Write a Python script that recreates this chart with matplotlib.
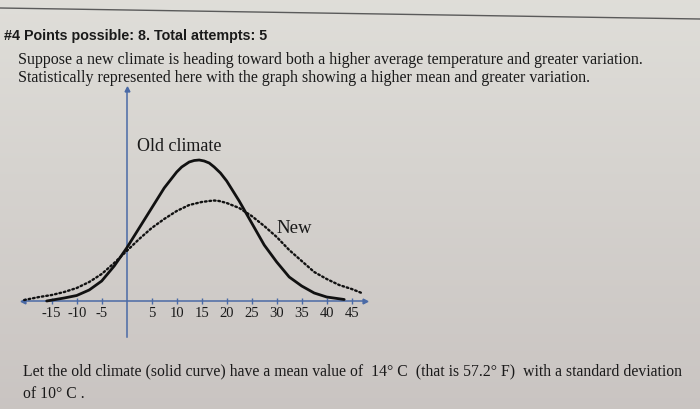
import numpy as np
import matplotlib
matplotlib.use("Agg")
import matplotlib.pyplot as plt
from matplotlib.lines import Line2D

# values (x in degrees C, height in arbitrary units)
old_x = [-16, -12.5, -10, -7.5, -5, -2.5, 0, 2.5, 5, 7.5, 10, 11, 12.5, 13.5, 14.5,
         15.5, 16.5, 17.5, 18.75, 20, 22.5, 25, 27.5, 30, 32.5, 35, 37.5, 40, 43.5]
old_h = [0, 3, 5.5, 11, 20, 35, 53, 73, 93, 113, 129, 134, 139, 140.5, 141,
         140, 138, 134, 128, 120, 100, 78, 56, 39, 24, 15, 8, 4, 1.5]

new_x = [-20.5, -17.5, -15, -12.5, -10, -7.5, -5, -2.5, 0, 2.5, 5, 7.5, 10, 12.5,
         15, 16.5, 17.5, 18.5, 20, 22.5, 25, 27.5, 30, 32.5, 35, 37.5, 40, 42.5, 45, 47]
new_h = [1, 4, 6, 9, 13, 19, 27, 38, 50, 62, 73, 82, 90, 96,
         99, 100, 100.5, 100, 98, 93, 85, 75, 64, 51, 40, 29, 22, 16, 12, 8]

tick_vals = [-15, -10, -5, 5, 10, 15, 20, 25, 30, 35, 40, 45]
tick_labels = ["-15", "-10", "-5", "5", "10", "15", "20", "25", "30", "35", "40", "45"]

header = "#4 Points possible: 8. Total attempts: 5"
intro = ["Suppose a new climate is heading toward both a higher average temperature and greater variation.",
         "Statistically represented here with the graph showing a higher mean and greater variation."]
question = ["Let the old climate (solid curve) have a mean value of  14\u00b0 C  (that is 57.2\u00b0 F)  with a standard deviation",
            "of 10\u00b0 C ."]

W, H = 700, 409
fig = plt.figure(figsize=(7, 4.09), dpi=100)

# paper background, slightly lighter at the top
bg = fig.add_axes([0, 0, 1, 1])
top = np.array([0.875, 0.870, 0.850])
bot = np.array([0.790, 0.770, 0.760])
grad = np.linspace(0, 1, 256)[:, None, None] * (bot - top) + top
bg.imshow(np.repeat(grad, 2, axis=1), aspect="auto", extent=[0, 1, 0, 1])
bg.set_xlim(0, 1)
bg.set_ylim(0, 1)
bg.axis("off")


def px(x, y):
    return x / W, 1 - y / H


# rule across the top of the page
fig.add_artist(Line2D([0, 1], [1 - 8 / H, 1 - 19 / H], color="#5a5a5a", lw=1.0))

serif = ["Liberation Serif", "DejaVu Serif"]
fig.text(*px(4, 36), header, fontsize=10.3, fontweight="bold", va="center",
         family=["Liberation Sans", "DejaVu Sans"], color="#1a1a1a")
fig.text(*px(18, 60), intro[0], fontsize=11.5, va="center", family=serif, color="#1a1a1a")
fig.text(*px(18, 78), intro[1], fontsize=11.5, va="center", family=serif, color="#1a1a1a")
fig.text(*px(23, 371), question[0], fontsize=11.3, va="center", family=serif, color="#1a1a1a")
fig.text(*px(23, 394), question[1], fontsize=11.3, va="center", family=serif, color="#1a1a1a")

# chart: 5 px per degree, 1 px per height unit, origin at (126.7, 301)
x0, y0 = 126.7, 301
xmin, xmax = -21, 48
ymin, ymax = -37, 215
ax = fig.add_axes([(x0 + xmin * 5) / W, (H - y0 + ymin) / H,
                   (xmax - xmin) * 5 / W, (ymax - ymin) / H])
ax.set_xlim(xmin, xmax)
ax.set_ylim(ymin, ymax)
ax.patch.set_alpha(0)

blue = "#4a6aa6"
for s in ["top", "right"]:
    ax.spines[s].set_visible(False)
ax.spines["bottom"].set_position(("data", 0))
ax.spines["left"].set_position(("data", 0))
ax.spines["bottom"].set_bounds(-20.8, 47.6)
ax.spines["left"].set_bounds(-36, 212)
ax.spines["bottom"].set_color(blue)
ax.spines["left"].set_color(blue)
ax.spines["bottom"].set_linewidth(1.1)
ax.spines["left"].set_linewidth(1.1)
ax.plot([47.6], [0], marker=">", color=blue, ms=3.5, clip_on=False)
ax.plot([-20.8], [0], marker="<", color=blue, ms=3.5, clip_on=False)
ax.plot([0], [212], marker="^", color=blue, ms=3.5, clip_on=False)

ax.set_xticks(tick_vals)
ax.set_xticklabels(tick_labels, family=serif, fontsize=10.5, color="#1a1a1a")
ax.tick_params(axis="x", direction="inout", length=5, width=1, color=blue, pad=2)
ax.set_yticks([])

ax.plot(old_x, old_h, color="#111111", lw=2.0, solid_joinstyle="round",
        solid_capstyle="round", zorder=3)
ax.plot(new_x, new_h, color="#111111", lw=1.7, linestyle=(0, (0.7, 1.2)),
        dash_capstyle="round", zorder=3)

ax.text(2, 155, "Old climate", family=serif, fontsize=13, va="center", color="#1a1a1a")
ax.text(30, 73, "New", family=serif, fontsize=13.5, va="center", color="#1a1a1a")

fig.savefig("out.png", dpi=100)
